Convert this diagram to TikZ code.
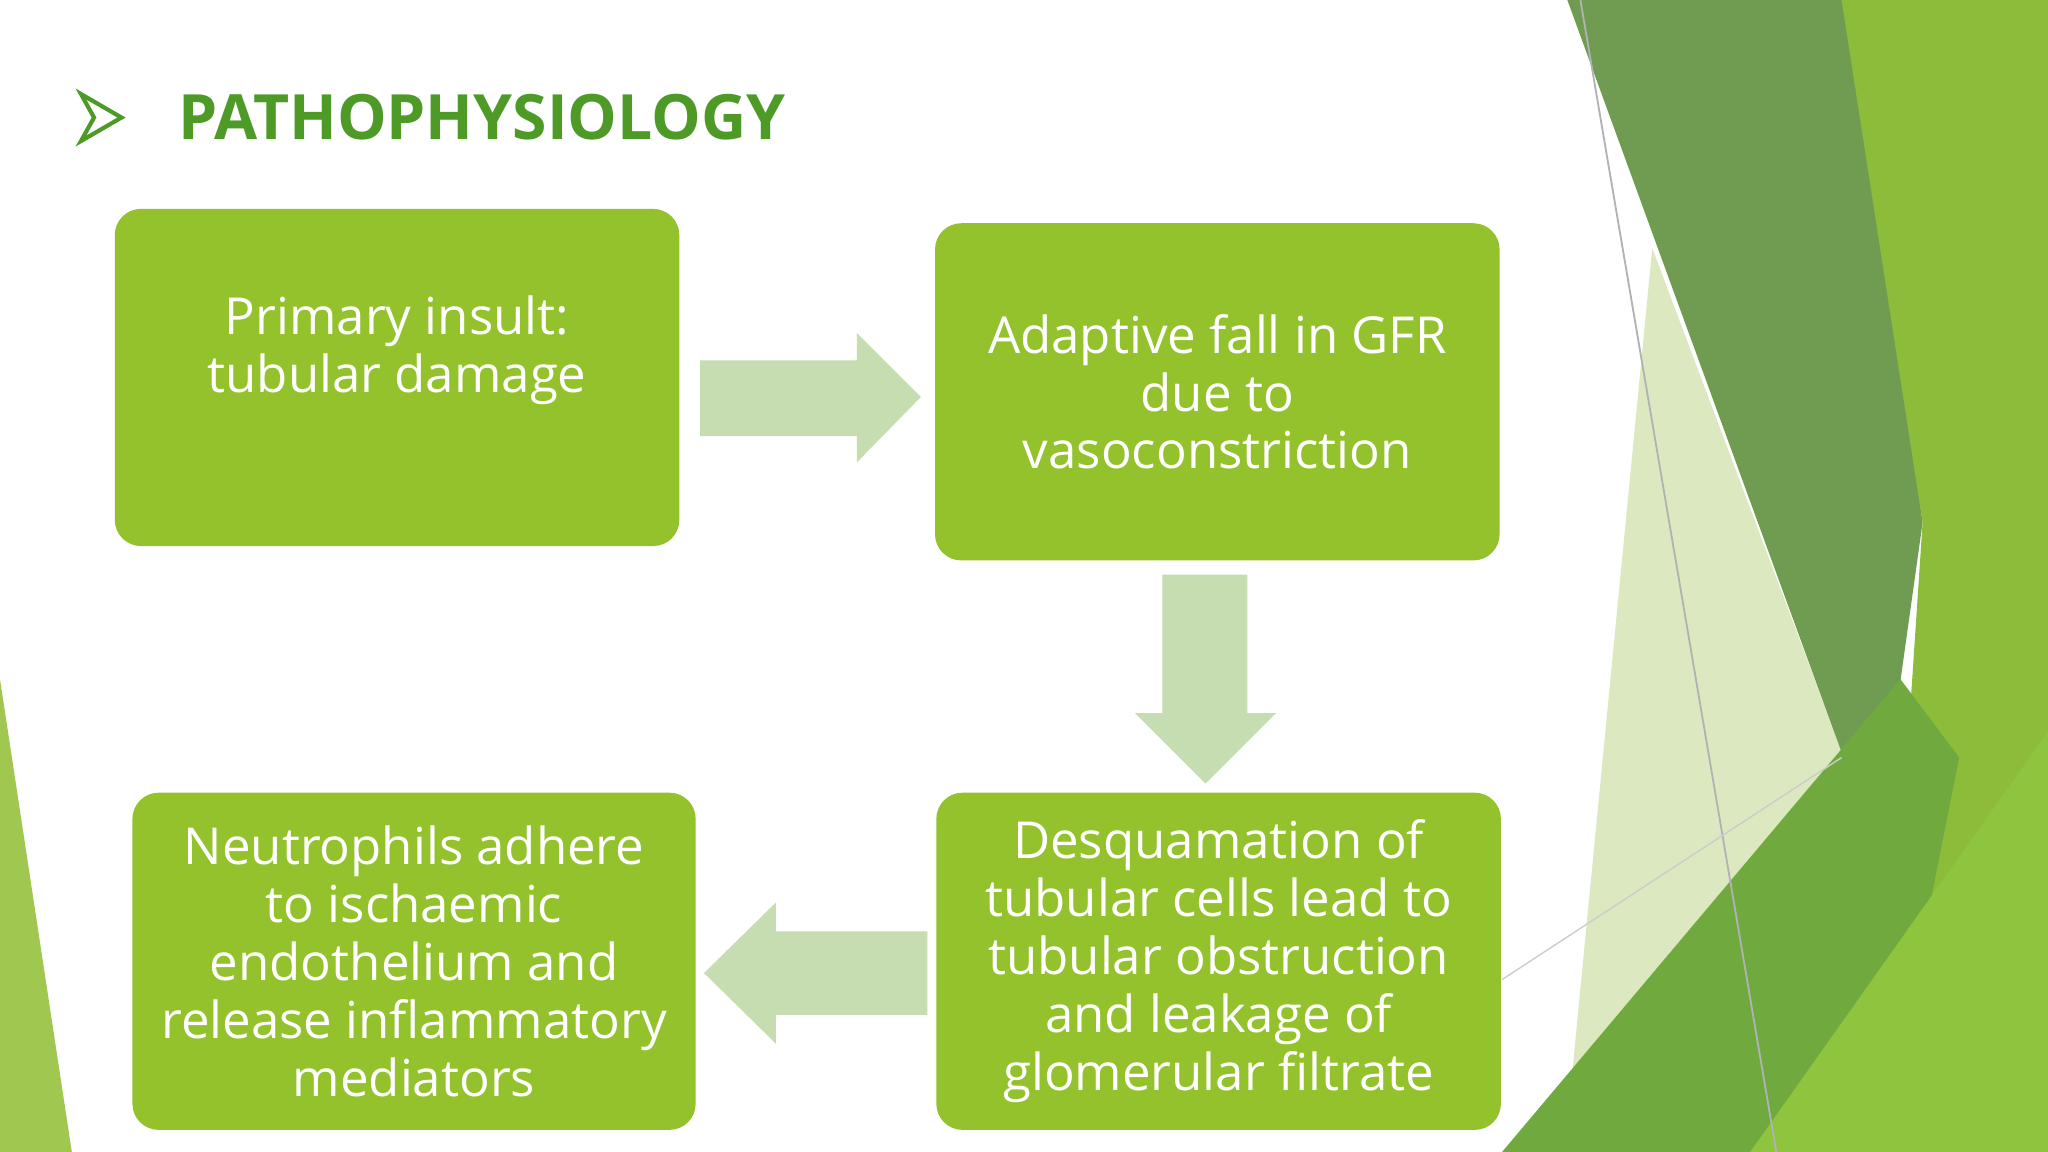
\documentclass[tikz,border=0pt]{standalone}
\usepackage{fontspec}
\setmainfont{Open Sans}
\begin{document}
\begin{tikzpicture}[x=0.01cm,y=-0.01cm,
  box/.style={fill=boxg,rounded corners=0.2cm,text=white,align=center,inner sep=0pt,font=\fontsize{11.1}{12.6}\selectfont},
  arr/.style={fill=arrg,draw=none}]
\definecolor{boxg}{HTML}{93C22C}
\definecolor{arrg}{HTML}{C5DDB0}
\definecolor{titleg}{HTML}{4E9A27}
\useasboundingbox (0,0) rectangle (1568,882);
\fill[white] (0,0) rectangle (1568,882);
% decoration
\fill[color={rgb,255:red,160;green,200;blue,80}] (0,520) -- (55,882) -- (0,882) -- cycle;
\fill[color={rgb,255:red,220;green,233;blue,192}] (1265,190) -- (1410,575) -- (1200,860) -- cycle;
\fill[color={rgb,255:red,112;green,156;blue,82}] (1200,0) -- (1418,0) -- (1472,400) -- (1437,650) -- cycle;
\fill[color={rgb,255:red,140;green,188;blue,58}] (1410,0) -- (1568,0) -- (1568,882) -- (1440,882) -- (1472,400) -- cycle;
\fill[color={rgb,255:red,112;green,170;blue,62}] (1150,882) -- (1455,520) -- (1500,580) -- (1440,882) -- cycle;
\fill[color={rgb,255:red,142;green,196;blue,62}] (1340,882) -- (1568,560) -- (1568,882) -- cycle;
\draw[gray!60,line width=0.4pt] (1210,0) -- (1360,882);
\draw[gray!40,line width=0.3pt] (1150,750) -- (1410,580);
% title
\draw[titleg,line width=0.9pt,line join=miter] (62,72) -- (93,90) -- (62,108) -- (72,90) -- cycle;
\node[anchor=west,text=titleg,font=\fontsize{13.6}{16}\selectfont\bfseries] (title) at (124,90) {PATHOPHYSIOLOGY};
% boxes
\node[box,minimum width=4.32cm,minimum height=2.58cm] (b1) at (304,289) {};
\node[box,fill=none] (b1t) at (304,268) {Primary insult:\\tubular damage};
\node[box,minimum width=4.32cm,minimum height=2.58cm] (b2) at (932,300) {Adaptive fall in GFR\\due to\\vasoconstriction};
\node[box,minimum width=4.31cm,minimum height=2.58cm] (b3) at (317,736) {Neutrophils adhere\\to ischaemic\\endothelium and\\release inflammatory\\mediators};
\node[box,minimum width=4.32cm,minimum height=2.58cm] (b4) at (933,736) {Desquamation of\\tubular cells lead to\\tubular obstruction\\and leakage of\\glomerular filtrate};
% arrows
\fill[arr] (536,276) -- (656,276) -- (656,255) -- (705,304) -- (656,354) -- (656,334) -- (536,334) -- cycle;
\fill[arr] (890,440) -- (955,440) -- (955,546) -- (977,546) -- (923,600) -- (869,546) -- (890,546) -- cycle;
\fill[arr] (710,713) -- (594,713) -- (594,691) -- (539,745) -- (594,799) -- (594,777) -- (710,777) -- cycle;
\end{tikzpicture}
\end{document}
